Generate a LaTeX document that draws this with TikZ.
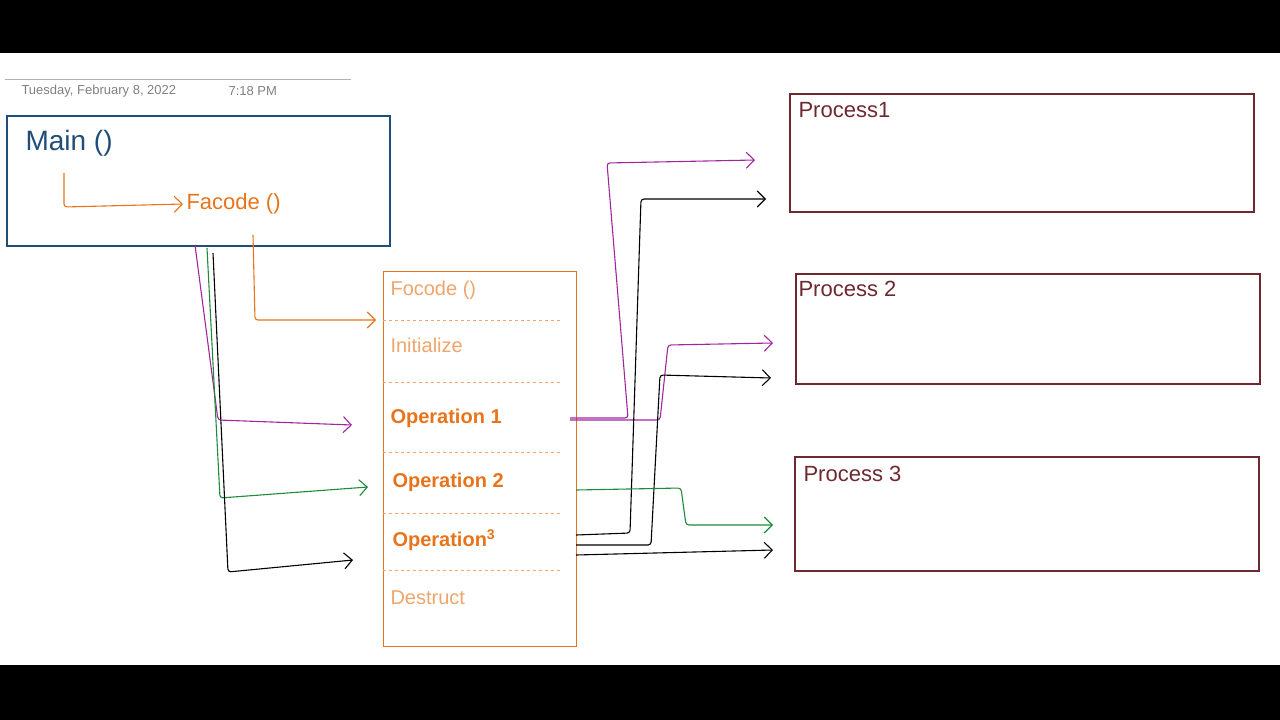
\documentclass[tikz,border=0pt]{standalone}
\usepackage{fontspec}
\setmainfont{Liberation Sans}
\usetikzlibrary{arrows.meta}
\definecolor{mblue}{HTML}{1F4E79}
\definecolor{morange}{HTML}{E8731A}
\definecolor{lorange}{HTML}{EFA56B}
\definecolor{pred}{HTML}{6E2830}
\definecolor{mpurple}{HTML}{A0269E}
\definecolor{mgreen}{HTML}{1E8A3C}
\tikzset{
  con/.style={line width=1.1pt,-{Straight Barb[length=8pt,width=16pt]},rounded corners=3pt},
  proc/.style={draw=pred,line width=1.6pt,minimum width=464pt,minimum height=118pt,anchor=north west},
  ptxt/.style={text=pred,font=\fontsize{22}{24}\selectfont,anchor=west},
  optxt/.style={text=morange,font=\bfseries\fontsize{20}{22}\selectfont,anchor=west},
  ltxt/.style={text=lorange,font=\fontsize{20}{22}\selectfont,anchor=west},
  sep/.style={draw=lorange,dashed,line width=0.8pt}
}
\begin{document}
\begin{tikzpicture}[x=1pt,y=-1pt]
\useasboundingbox (0,0) rectangle (1280,720);
\fill[black] (0,0) rectangle (1280,53);
\fill[black] (0,665) rectangle (1280,720);
\draw[gray!60] (5,79) -- (351,79);
\node[anchor=west,text=gray,font=\fontsize{13}{15}\selectfont] (date) at (18,91) {Tuesday, February 8, 2022};
\node[anchor=west,text=gray,font=\fontsize{13}{15}\selectfont] (time) at (225,91) {7:18 PM};
% main box
\node[draw=mblue,line width=1.6pt,minimum width=383pt,minimum height=130pt,anchor=north west] (main) at (6,115) {};
\node[anchor=west,text=mblue,font=\fontsize{28}{30}\selectfont] (maint) at (22,143) {Main ()};
\node[anchor=west,text=morange,font=\fontsize{22}{24}\selectfont] (fac) at (183,204) {Facode ()};
\coordinate (f0) at (64,173);
\draw[con,morange] (f0) -- (64,207) -- (fac.west);
% orange box
\node[draw=morange,line width=1.2pt,minimum width=193pt,minimum height=375pt,anchor=north west] (obox) at (383,271) {};
\node[ltxt] (t0) at (387,290) {Focode ()};
\node[ltxt] (t1) at (387,345) {Initialize};
\node[optxt] (o1) at (387,418) {Operation 1};
\node[optxt] (o2) at (389,482) {Operation 2};
\node[optxt] (o3) at (389,540) {Operation\textsuperscript{3}};
\node[ltxt] (t5) at (387,598) {Destruct};
\foreach \y in {320,382,452,513,570} \draw[sep] (obox.west |- 0,\y) -- (563,\y);
% process boxes
\node[proc] (p1) at (789,93) {};
\node[proc,minimum height=110pt] (p2) at (795,273) {};
\node[proc,minimum height=114pt] (p3) at (794,456) {};
\node[ptxt] (p1t) at (795,110) {Process1};
\node[ptxt] (p2t) at (795,289) {Process 2};
\node[ptxt] (p3t) at (800,474) {Process 3};
% orange to facade
\coordinate (fa) at (253,235);
\coordinate (fb) at (376,320);
\draw[con,morange] (fa) -- (255,320) -- (fb);
% main to operations
\coordinate (a1) at (195,245); \coordinate (b1) at (352,425);
\draw[con,mpurple] (a1) -- (218,420) -- (b1);
\coordinate (a2) at (207,248); \coordinate (b2) at (368,487);
\draw[con,mgreen] (a2) -- (220,498) -- (b2);
\coordinate (a3) at (213,253); \coordinate (b3) at (353,560);
\draw[con,black] (a3) -- (228,572) -- (b3);
% operations to processes
\coordinate (s1) at (570,418); \coordinate (e1) at (755,160);
\draw[con,mpurple] (s1) -- (628,418) -- (607,163) -- (e1);
\coordinate (s2) at (570,420); \coordinate (e2) at (773,343);
\draw[con,mpurple] (s2) -- (660,420) -- (668,345) -- (e2);
\coordinate (s3) at (576,535); \coordinate (e3) at (766,199);
\draw[con,black] (s3) -- (630,533) -- (641,199) -- (e3);
\coordinate (s4) at (576,545); \coordinate (e4) at (771,378);
\draw[con,black] (s4) -- (651,545) -- (660,375) -- (e4);
\coordinate (s5) at (576,490); \coordinate (e5) at (773,525);
\draw[con,mgreen] (s5) -- (681,488) -- (686,525) -- (e5);
\coordinate (s6) at (576,555); \coordinate (e6) at (773,550);
\draw[con,black] (s6) -- (e6);
\end{tikzpicture}
\end{document}
